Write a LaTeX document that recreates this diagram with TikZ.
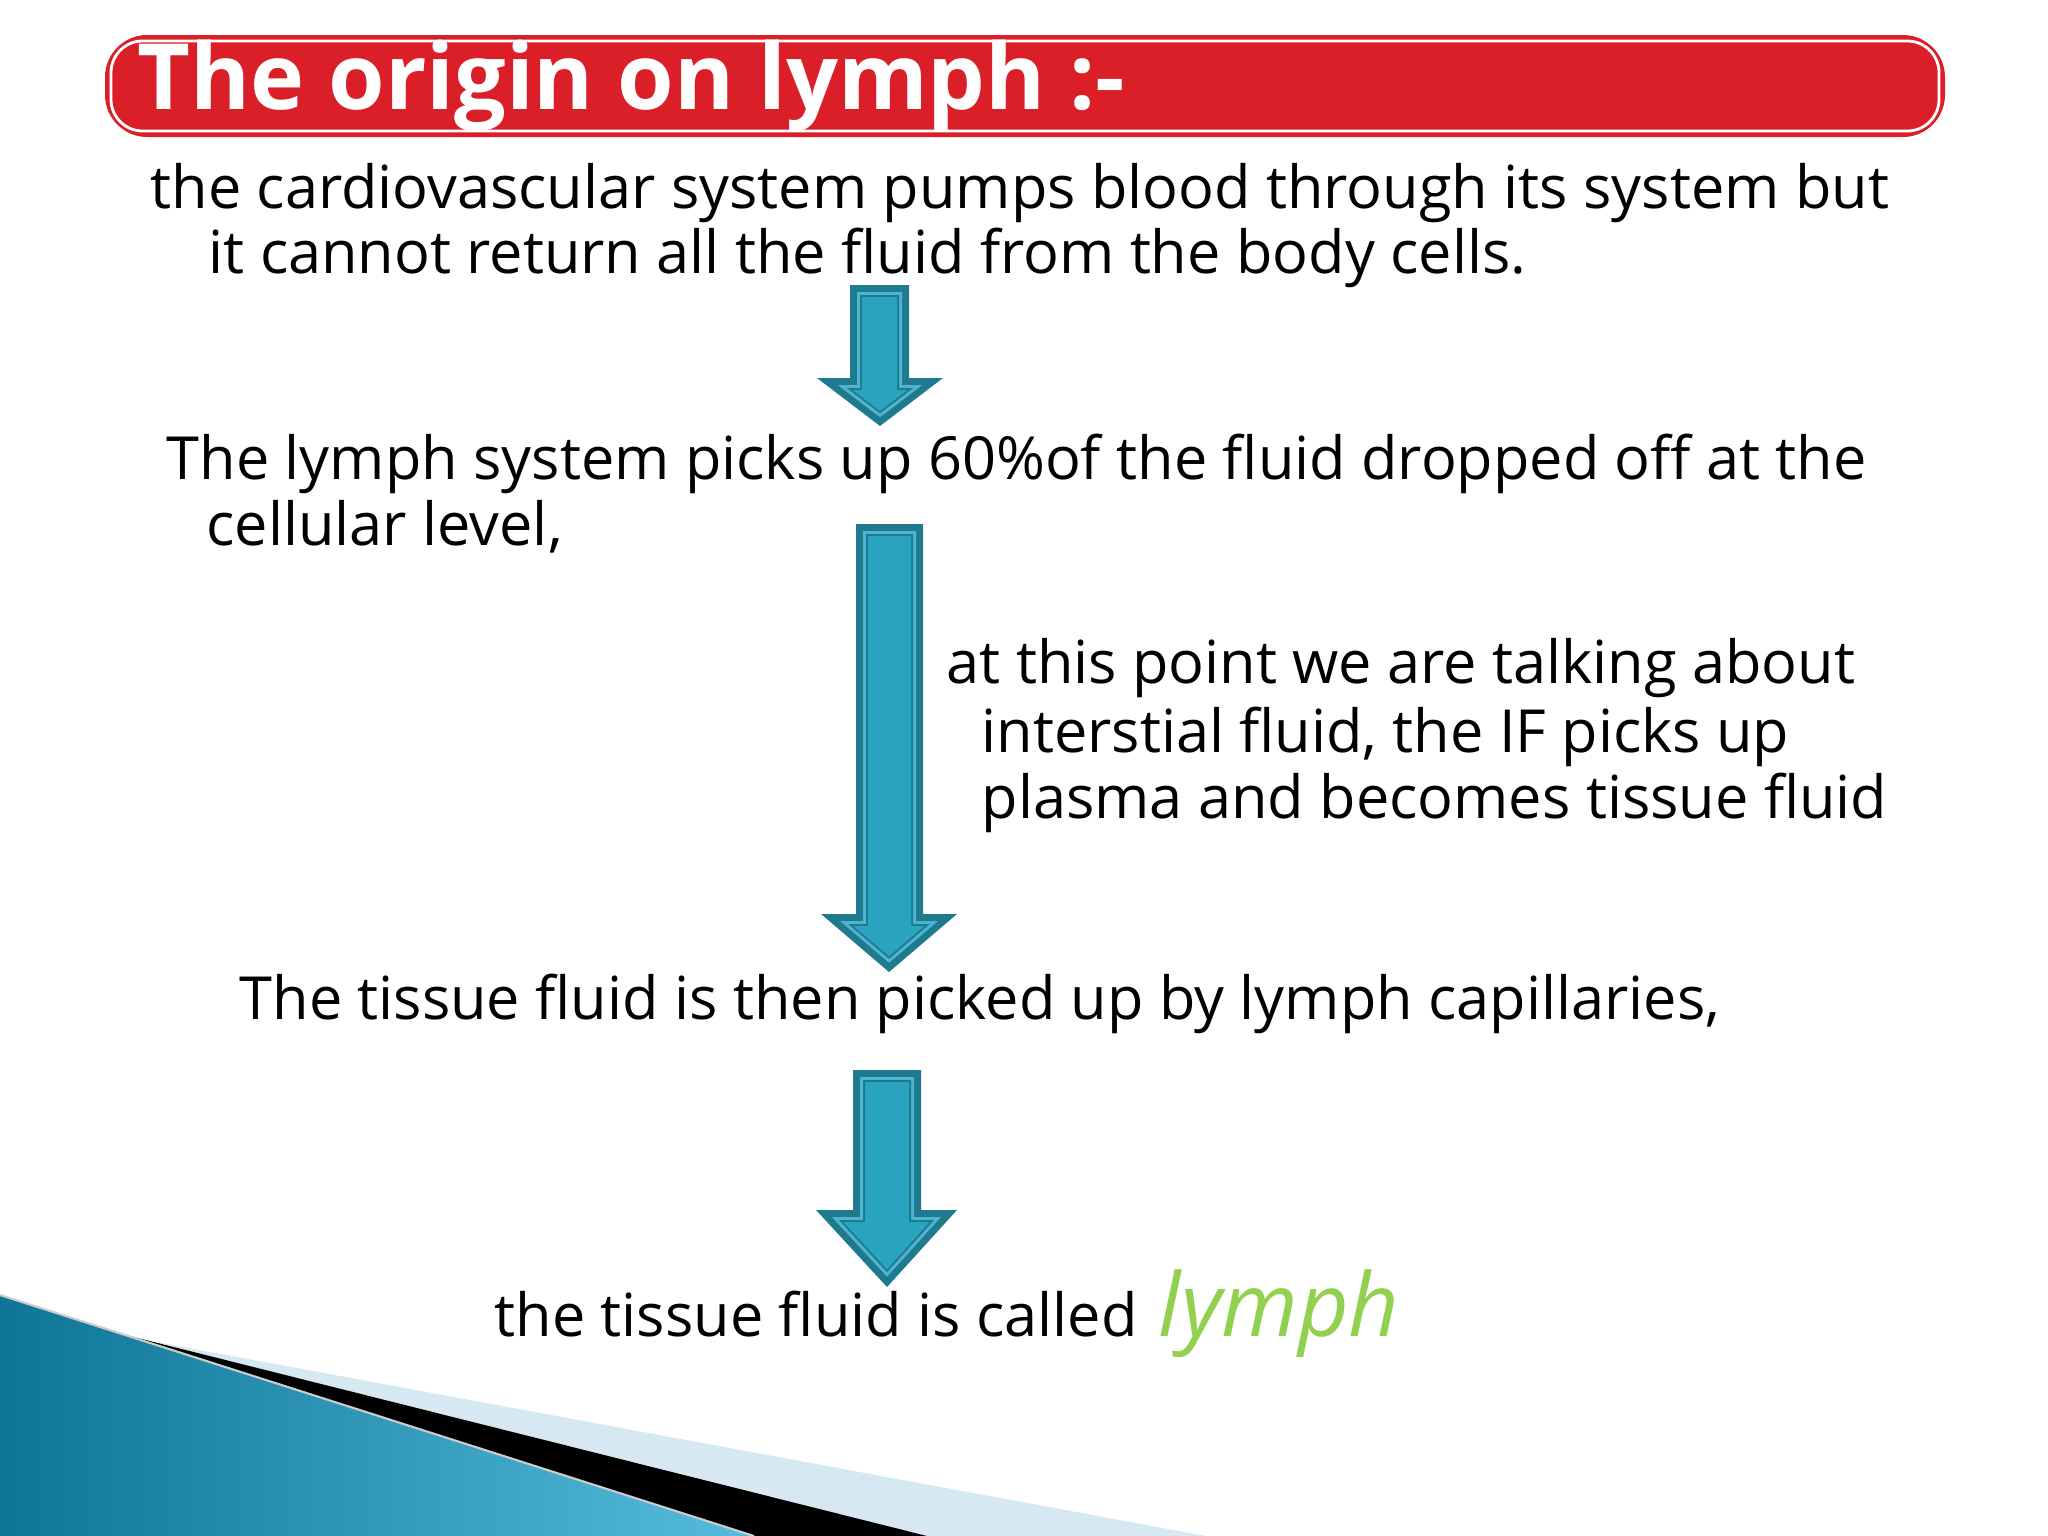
\documentclass[tikz,border=0pt]{standalone}
\usepackage{fontspec}
\setmainfont{Open Sans}
\definecolor{titlered}{HTML}{DA1F28}
\definecolor{arrdark}{HTML}{1F7A90}
\definecolor{arrmid}{HTML}{4DB5CF}
\definecolor{arrlight}{HTML}{2AA3C1}
\definecolor{lymphgreen}{HTML}{92D050}
\definecolor{wedgedark}{HTML}{0E7596}
\definecolor{wedgelight}{HTML}{55BCDD}
\definecolor{paleband}{HTML}{D6E8F1}
\newcommand\flowarrow[8]{% sL sR T hL hR H P cx
  \foreach \ins/\col in {0/arrdark,7/arrmid,10/arrdark,12/arrlight}{
    \pgfmathsetmacro\tn{(#7-#6)/(#8-#4)}
    \pgfmathsetmacro\ang{atan(\tn)}
    \pgfmathsetmacro\bx{\ins/\tn+\ins/sin(\ang)}
    \pgfmathsetmacro\ty{\ins/cos(\ang)}
    \fill[\col] (#1+\ins,#3+\ins) -- (#2-\ins,#3+\ins) -- (#2-\ins,#6+\ins)
      -- (#5-\bx,#6+\ins) -- (#8,#7-\ty) -- (#4+\bx,#6+\ins)
      -- (#1+\ins,#6+\ins) -- cycle;
  }}
\begin{document}
\begin{tikzpicture}[x=0.01cm,y=-0.01cm,
  body/.style={anchor=base west, inner sep=0pt, font=\fontsize{16.9}{20}\selectfont}]
\useasboundingbox[fill=white] (0,0) rectangle (2048,1536);
% bottom-left decoration
\fill[paleband] (156,1342) -- (1206,1536) -- (900,1536) -- cycle;
\fill[black] (114,1332) -- (927,1536) -- (754,1536) -- cycle;
\shade[left color=wedgedark, right color=wedgelight] (0,1295) -- (754,1536) -- (0,1536) -- cycle;
\draw[white!60!gray, line width=0.6pt] (0,1295) -- (754,1536);
% title bar
\fill[titlered, rounded corners=12] (105,35) rectangle (1945,137);
\draw[white, line width=0.8pt, rounded corners=9] (111,41) rectangle (1939,131);
\node[anchor=base west, inner sep=0pt, text=white, font=\fontsize{26}{30}\selectfont\bfseries] (title) at (137,109) {The origin on lymph :-};
% text
\node[body] (l1) at (150,208) {the cardiovascular system pumps blood through its system but};
\node[body] (l2) at (208,273) {it cannot return all the fluid from the body cells.};
\node[body] (l3) at (166,479) {The lymph system picks up 60\%of the fluid dropped off at the};
\node[body] (l4) at (206,545) {cellular level,};
\node[body] (r1) at (946,683) {at this point we are talking about};
\node[body] (r2) at (981,752) {interstial fluid, the IF picks up};
\node[body] (r3) at (981,818) {plasma and becomes tissue fluid};
\node[body] (l5) at (239,1019) {The tissue fluid is then picked up by lymph capillaries,};
\node[body] (l6) at (494,1336) {the tissue fluid is called};
\node[anchor=base west, inner sep=0pt, text=lymphgreen, font=\fontsize{25}{29}\selectfont\itshape] (ly) at ([xshift=0.2cm]l6.base east) {lymph};
% arrows
\flowarrow{850}{909}{285}{817}{943}{378}{426}{880}
\flowarrow{856}{923}{524}{821}{957}{914}{972}{889}
\flowarrow{853}{921}{1070}{816}{957}{1210}{1287}{887}
\end{tikzpicture}
\end{document}
